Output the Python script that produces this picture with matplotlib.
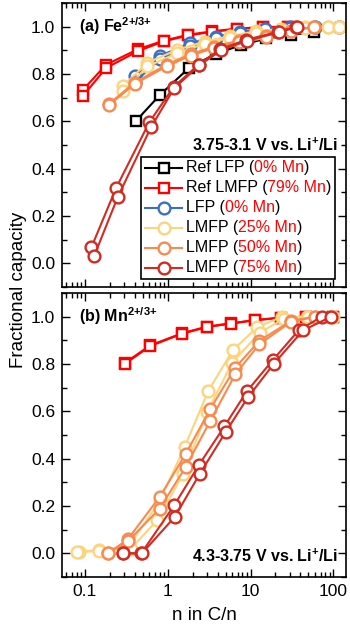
import matplotlib
matplotlib.use("Agg")
import matplotlib.pyplot as plt
from matplotlib.lines import Line2D
from matplotlib.offsetbox import AnchoredOffsetbox, DrawingArea, HPacker, VPacker, TextArea
from matplotlib.ticker import FixedLocator, FixedFormatter, MultipleLocator, LogLocator, NullFormatter

plt.rcParams["font.family"] = ["Liberation Sans", "DejaVu Sans"]
plt.rcParams["mathtext.fontset"] = "custom"
plt.rcParams["mathtext.rm"] = "Liberation Sans"
plt.rcParams["mathtext.bf"] = "Liberation Sans:bold"

# -----------------------
# Data (two runs per sample where visible)
# -----------------------
# (a) Fe2+/3+ region, 3.75-3.1 V
ref_lfp_n = [0.41, 0.81, 1.8, 3.8, 7.7, 15.4, 30.8, 59]
ref_lfp_a = [0.600, 0.712, 0.825, 0.885, 0.922, 0.950, 0.965, 0.978]

ref_lmfp_n_a = [0.094, 0.18, 0.44, 0.90, 1.78, 3.4, 6.9, 14, 28]
ref_lmfp_a1 = [0.731, 0.839, 0.905, 0.941, 0.966, 0.980, 0.992, 0.998, 1.0]
ref_lmfp_a2 = [0.705, 0.825, 0.897, 0.938, 0.963, 0.978, 0.990, 0.997, 1.0]

lfp_n = [0.40, 0.80, 1.85, 3.8, 7.5, 15, 30, 60, 118]
lfp_a1 = [0.790, 0.876, 0.930, 0.958, 0.978, 0.992, 0.998, 1.0, 1.0]
lfp_a2 = [0.765, 0.862, 0.920, 0.950, 0.972, 0.988, 0.996, 1.0, 1.0]

mn25_n_a = [0.29, 0.57, 1.3, 2.8, 5.6, 11.5, 23, 46, 85, 118]
mn25_a1 = [0.750, 0.848, 0.902, 0.937, 0.960, 0.980, 0.990, 0.997, 1.0, 1.0]
mn25_a2 = [0.727, 0.832, 0.888, 0.928, 0.952, 0.974, 0.987, 0.995, 1.0, 1.0]

mn50_n_a = [0.198, 0.40, 0.97, 1.9, 3.66, 7.3, 15.4, 30.8, 59]
mn50_a1 = [0.675, 0.764, 0.839, 0.884, 0.916, 0.941, 0.960, 0.983, 1.0]
mn50_a2 = [0.670, 0.758, 0.832, 0.878, 0.910, 0.935, 0.955, 0.980, 1.0]

mn75_n_a1 = [0.12, 0.24, 0.60, 1.18, 2.37, 4.3, 8.8, 21.7, 35.5]
mn75_a1 = [0.067, 0.320, 0.596, 0.745, 0.840, 0.905, 0.944, 0.979, 1.0]
mn75_n_a2 = [0.13, 0.25, 0.63, 1.2, 2.4, 4.4, 9.0, 22, 36]
mn75_a2 = [0.032, 0.280, 0.575, 0.740, 0.836, 0.900, 0.940, 0.976, 0.998]

# (b) Mn2+/3+ region, 4.3-3.75 V
ref_lmfp_n_b = [0.308, 0.618, 1.49, 2.98, 5.8, 11.4, 23, 46.8, 98]
ref_lmfp_b1 = [0.806, 0.879, 0.930, 0.958, 0.972, 0.986, 0.996, 1.0, 1.0]
ref_lmfp_b2 = [0.802, 0.876, 0.928, 0.956, 0.971, 0.985, 0.995, 1.0, 1.0]

mn25_n_b1 = [0.085, 0.15, 0.34, 0.8, 1.6, 3.1, 6.1, 12, 24, 48, 96]
mn25_b1 = [0.007, 0.014, 0.030, 0.220, 0.449, 0.687, 0.858, 0.955, 1.0, 1.0, 1.0]
mn25_n_b2 = [0.08, 0.15, 0.36, 0.75, 1.55, 3.0, 6.0, 13, 25, 50, 100]
mn25_b2 = [0.005, 0.010, 0.020, 0.140, 0.337, 0.596, 0.806, 0.933, 0.99, 1.0, 1.0]

mn50_n_b = [0.19, 0.33, 0.80, 1.65, 3.27, 6.56, 12.8, 30.8, 60]
mn50_b1 = [0.0, 0.059, 0.238, 0.420, 0.610, 0.785, 0.898, 0.982, 1.0]
mn50_b2 = [0.0, 0.050, 0.189, 0.365, 0.560, 0.757, 0.884, 0.978, 1.0]

mn75_n_b1 = [0.29, 0.48, 1.2, 2.37, 4.83, 9.0, 18.5, 38, 72]
mn75_b1 = [0.0, 0.0, 0.203, 0.372, 0.536, 0.684, 0.816, 0.942, 1.0]
mn75_n_b2 = [0.29, 0.49, 1.22, 2.45, 5.0, 9.3, 19, 43, 94]
mn75_b2 = [0.0, 0.0, 0.154, 0.337, 0.512, 0.659, 0.800, 0.942, 1.0]

legend_names = ["Ref LFP (", "Ref LMFP (", "LFP (", "LMFP (", "LMFP (", "LMFP ("]
legend_mn = ["0% Mn", "79% Mn", "0% Mn", "25% Mn", "50% Mn", "75% Mn"]

C_BLACK = "black"
C_RED = "#ff0000"
C_BLUE = "#3b6fc4"
C_YEL = "#fdd47e"
C_ORA = "#f88a50"
C_DRED = "#d22b22"
legend_colors = [C_BLACK, C_RED, C_BLUE, C_YEL, C_ORA, C_DRED]
legend_markers = ["s", "s", "o", "o", "o", "o"]

MS = {"s": 7.5, "o": 8.5}
LW = 1.5
MEW = 1.7

# -----------------------
# Plot
# -----------------------
fig = plt.figure(figsize=(3.5, 6.37), dpi=100)
ax_a = fig.add_axes([0.177, 0.5495, 0.8116, 0.4458])
ax_b = fig.add_axes([0.177, 0.0942, 0.8116, 0.4458])


def curve(ax, x, y, color, marker):
    ax.plot(x, y, color=color, lw=LW, marker=marker, ms=MS[marker],
            mfc="white", mec=color, mew=MEW)


curve(ax_a, ref_lfp_n, ref_lfp_a, C_BLACK, "s")
curve(ax_a, ref_lmfp_n_a, ref_lmfp_a1, C_RED, "s")
curve(ax_a, ref_lmfp_n_a, ref_lmfp_a2, C_RED, "s")
curve(ax_a, lfp_n, lfp_a1, C_BLUE, "o")
curve(ax_a, lfp_n, lfp_a2, C_BLUE, "o")
curve(ax_a, mn25_n_a, mn25_a1, C_YEL, "o")
curve(ax_a, mn25_n_a, mn25_a2, C_YEL, "o")
curve(ax_a, mn50_n_a, mn50_a1, C_ORA, "o")
curve(ax_a, mn50_n_a, mn50_a2, C_ORA, "o")
curve(ax_a, mn75_n_a1, mn75_a1, C_DRED, "o")
curve(ax_a, mn75_n_a2, mn75_a2, C_DRED, "o")

curve(ax_b, ref_lmfp_n_b, ref_lmfp_b1, C_RED, "s")
curve(ax_b, ref_lmfp_n_b, ref_lmfp_b2, C_RED, "s")
curve(ax_b, mn25_n_b1, mn25_b1, C_YEL, "o")
curve(ax_b, mn25_n_b2, mn25_b2, C_YEL, "o")
curve(ax_b, mn50_n_b, mn50_b1, C_ORA, "o")
curve(ax_b, mn50_n_b, mn50_b2, C_ORA, "o")
curve(ax_b, mn75_n_b1, mn75_b1, C_DRED, "o")
curve(ax_b, mn75_n_b2, mn75_b2, C_DRED, "o")

for ax in (ax_a, ax_b):
    ax.set_xscale("log")
    ax.set_xlim(0.053, 142)
    ax.set_ylim(-0.1, 1.1)
    ax.xaxis.set_major_locator(FixedLocator([0.1, 1, 10, 100]))
    ax.xaxis.set_major_formatter(FixedFormatter(["0.1", "1", "10", "100"]))
    ax.xaxis.set_minor_locator(LogLocator(base=10, subs=range(2, 10)))
    ax.xaxis.set_minor_formatter(NullFormatter())
    ax.yaxis.set_major_locator(MultipleLocator(0.2))
    ax.yaxis.set_minor_locator(MultipleLocator(0.1))
    ax.yaxis.set_major_formatter(plt.FuncFormatter(lambda v, p: f"{v:.1f}"))
    ax.tick_params(which="both", direction="in", top=True, right=True,
                   width=1.0, labelsize=12.5, pad=5)
    ax.tick_params(which="major", length=6)
    ax.tick_params(which="minor", length=3.5)
    for s in ax.spines.values():
        s.set_linewidth(1.2)

ax_a.tick_params(labelbottom=False)

fig.text(0.052, 0.545, "Fractional capacity", rotation=90, ha="center",
         va="center", fontsize=13.5)
ax_b.set_xlabel("n in C/n", fontsize=13.5, labelpad=6)

ax_a.text(0.06, 0.92, r"(a) Fe$^{\mathbf{2{+}/3{+}}}$", transform=ax_a.transAxes,
          fontsize=11.5, fontweight="bold", va="center")
ax_a.text(0.97, 0.50, r"3.75-3.1 V vs. Li$^{\mathbf{+}}$/Li", transform=ax_a.transAxes,
          fontsize=11.5, fontweight="bold", ha="right", va="center")
ax_b.text(0.06, 0.92, r"(b) Mn$^{\mathbf{2{+}/3{+}}}$", transform=ax_b.transAxes,
          fontsize=11.5, fontweight="bold", va="center")
ax_b.text(0.97, 0.072, r"4.3-3.75 V vs. Li$^{\mathbf{+}}$/Li", transform=ax_b.transAxes,
          fontsize=11.5, fontweight="bold", ha="right", va="center")

# legend built by hand so the Mn content can be red
FS_LEG = 11.5
rows = []
for name, mn, col, mk in zip(legend_names, legend_mn, legend_colors, legend_markers):
    da = DrawingArea(27, 10, 0, 0)
    da.add_artist(Line2D([0, 27], [5, 5], color=col, lw=LW))
    da.add_artist(Line2D([13.5], [5], color=col, marker=mk, ms=MS[mk],
                         mfc="white", mec=col, mew=MEW))
    pieces = HPacker(children=[TextArea(name, textprops=dict(color="black", fontsize=FS_LEG)),
                               TextArea(mn, textprops=dict(color=C_RED, fontsize=FS_LEG)),
                               TextArea(")", textprops=dict(color="black", fontsize=FS_LEG))],
                     pad=0, sep=0, align="baseline")
    rows.append(HPacker(children=[da, pieces], pad=0, sep=2.5, align="center"))

leg_box = VPacker(children=rows, pad=0, sep=3.6, align="left")
anchored = AnchoredOffsetbox(loc="upper right", child=leg_box, pad=0.25, borderpad=0,
                             bbox_to_anchor=(0.962, 0.458), bbox_transform=ax_a.transAxes,
                             frameon=True)
anchored.patch.set_boxstyle("square", pad=0)
anchored.patch.set_edgecolor("black")
anchored.patch.set_linewidth(1.2)
anchored.zorder = 6
ax_a.add_artist(anchored)

fig.savefig("out.png", dpi=100)
